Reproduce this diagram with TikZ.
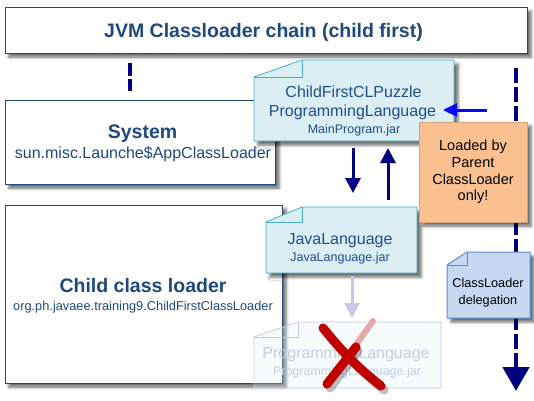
\documentclass[tikz,border=0pt]{standalone}
\usepackage{fontspec}
\setmainfont{Liberation Sans}
\usetikzlibrary{arrows.meta,calc,shadows.blur}
\definecolor{txtblue}{HTML}{1F497D}
\definecolor{notetxt}{HTML}{1F4E8C}
\definecolor{boxline}{HTML}{1F497D}
\definecolor{notefill}{HTML}{DAEEF3}
\definecolor{noteline}{HTML}{4BACC6}
\definecolor{navyc}{HTML}{000080}
\definecolor{brightblue}{HTML}{0A0AF5}
\definecolor{orangefill}{HTML}{FAC090}
\definecolor{delegfill}{HTML}{C6D9F1}
\definecolor{delegline}{HTML}{558ED5}
\definecolor{fadeline}{HTML}{C8C8E8}
\definecolor{fadetext}{HTML}{C3CDE3}
\definecolor{xred}{HTML}{C00000}
\newcommand\fs[1]{\fontsize{#1}{#1}\selectfont}
\newcommand\drawnote[5]{%
  \path[#4] (#1.south west) -- ($(#1.north west)+(0,#3)$) -- ($(#1.north west)+(#2,0)$) -- (#1.north east) -- (#1.south east) -- cycle;
  \draw[#5] ($(#1.north west)+(#2,0)$) -- ($(#1.north west)+(#2,#3)$) -- ($(#1.north west)+(0,#3)$);
}
\tikzset{
  shadowed/.style={blur shadow={shadow xshift=4pt,shadow yshift=-4pt,shadow blur radius=3pt,shadow opacity=60}},
  mainbox/.style={draw=boxline,line width=1pt,fill=white,shadowed,inner sep=0pt},
  frame/.style={inner sep=0pt,outer sep=0pt},
  txt/.style={anchor=base,inner sep=0pt},
  navyarrow/.style={draw=navyc,line width=3pt,-{Triangle[length=15pt,width=15pt]}},
  dashline/.style={draw=navyc,line width=4.5pt,dash pattern=on 15pt off 4pt}
}
\begin{document}
\begin{tikzpicture}[x=1pt,y=-1pt]
\useasboundingbox (0,0) rectangle (534,400);
% title
\node[mainbox,minimum width=522pt,minimum height=46pt] (title) at (266,30) {};
\node[txt,font=\fs{19.5}\bfseries,text=txtblue] (titletxt) at (263.5,37) {JVM Classloader chain (child first)};
% left dashed link
\coordinate (l1) at (130,63);
\coordinate (l2) at (130,91);
\draw[draw=navyc,line width=4pt,dash pattern=on 13pt off 3pt] (l1) -- (l2);
% loaders
\node[mainbox,minimum width=270pt,minimum height=84pt] (system) at (140,142) {};
\node[txt,font=\fs{19.5}\bfseries,text=txtblue] (systitle) at (142.5,138) {System};
\node[txt,font=\fs{16},text=txtblue] (syssub) at (143,158) {sun.misc.Launche\$AppClassLoader};
\node[mainbox,minimum width=277pt,minimum height=178pt] (child) at (143.5,294) {};
\node[txt,font=\fs{19.5}\bfseries,text=txtblue] (childtitle) at (143,292) {Child class loader};
\node[txt,font=\fs{12.8},text=txtblue] (childsub) at (143,310) {org.ph.javaee.training9.ChildFirstClassLoader};
% right delegation line
\coordinate (d1) at (516,68);
\coordinate (d2) at (516,391);
\draw[dashline,-{Triangle[length=24pt,width=26pt]}] (d1) -- (d2);
% puzzle note
\node[frame,minimum width=200pt,minimum height=81pt] (puzzle) at (354,100.5) {};
\drawnote{puzzle}{48}{17}{fill=notefill,draw=noteline,line width=0.8pt,shadowed}{draw=noteline,line width=0.8pt}
\node[txt,font=\fs{16},text=notetxt] (p1) at (353.5,97) {ChildFirstCLPuzzle};
\node[txt,font=\fs{16},text=notetxt] (p2) at (352.5,116) {ProgrammingLanguage};
\node[txt,font=\fs{12.5},text=notetxt] (p3) at (354,133) {MainProgram.jar};
% java note
\node[frame,minimum width=151pt,minimum height=66pt] (java) at (341.5,240) {};
\drawnote{java}{36}{15}{fill=notefill,draw=noteline,line width=0.8pt,shadowed}{draw=noteline,line width=0.8pt}
\node[txt,font=\fs{16},text=notetxt] (j1) at (340,244) {JavaLanguage};
\node[txt,font=\fs{12.5},text=notetxt] (j2) at (340,261) {JavaLanguage.jar};
% faded note
\node[frame,minimum width=187pt,minimum height=66pt] (faded) at (347.5,355) {};
\drawnote{faded}{44}{15}{fill=notefill,fill opacity=0.25,draw=fadeline,line width=0.8pt}{draw=fadeline,line width=0.8pt}
\node[txt,font=\fs{16},text=fadetext] (f1) at (346,358) {ProgrammingLanguage};
\node[txt,font=\fs{12.5},text=fadetext] (f2) at (347,375) {ProgrammingLanguage.jar};
% arrows
\draw[navyarrow] ($(puzzle.south)+(-1,7)$) -- ($(puzzle.south)+(-1,52)$);
\draw[navyarrow] ($(java.north)+(46.5,-7)$) -- ($(puzzle.south)+(34,7)$);
\draw[draw=brightblue,line width=3pt,-{Triangle[length=14pt,width=13pt]}] ($(puzzle.east)+(33,9.5)$) -- ($(puzzle.east)+(-11,9.5)$);
\draw[draw=fadeline,line width=3pt,-{Triangle[length=15pt,width=15pt]}] ($(java.south)+(10.5,3)$) -- ($(faded.north)+(4.5,-4)$);
% orange box
\node[frame,minimum width=108pt,minimum height=100pt,fill=orangefill,draw=orangefill!85!black,line width=0.5pt,shadowed] (parent) at (473,172) {};
\node[txt,font=\fs{14.5}] (o1) at (473,150.7) {Loaded by};
\node[txt,font=\fs{14.5}] (o2) at (473,167) {Parent};
\node[txt,font=\fs{14.5}] (o3) at (473,184) {ClassLoader};
\node[txt,font=\fs{14.5}] (o4) at (473,200.7) {only!};
% delegation note
\node[frame,minimum width=83pt,minimum height=66pt] (deleg) at (488.5,285) {};
\drawnote{deleg}{20}{13}{fill=delegfill,draw=delegline,line width=1pt,shadowed}{draw=delegline,line width=1pt}
\node[txt,font=\fs{12.7}] (dl1) at (488,287.7) {ClassLoader};
\node[txt,font=\fs{12.7}] (dl2) at (488,304) {delegation};
% red cross
\draw[line width=9pt,line cap=round,black,opacity=0.25] (326,331) to[bend right=6] (384,390);
\draw[line width=9pt,line cap=round,black,opacity=0.25] (330,388) -- (358,351);
\draw[line width=9pt,line cap=round,xred] (323,328) to[bend right=6] (381,386);
\draw[line width=6pt,line cap=round,xred!35] (355,346) -- (373,321);
\draw[line width=9pt,line cap=round,xred] (327,384) -- (356,347);
\end{tikzpicture}
\end{document}
